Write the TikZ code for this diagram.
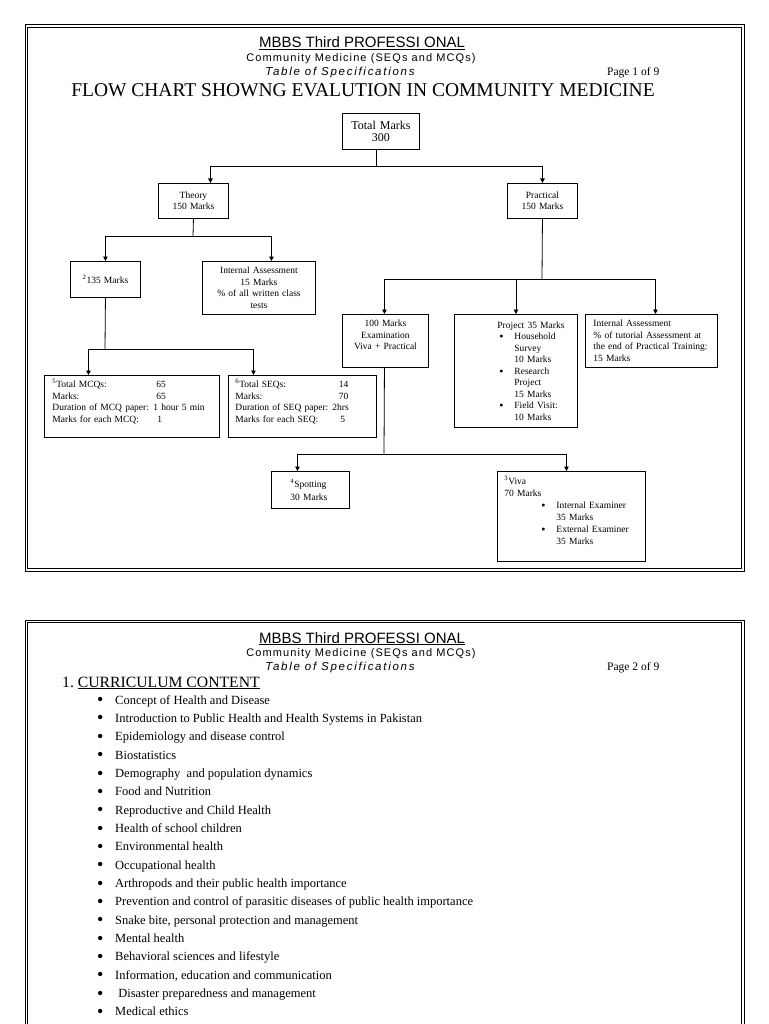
\documentclass[tikz,border=0pt]{standalone}
\usepackage{fontspec}
\setmainfont{Liberation Serif}
\setsansfont{Liberation Sans}
\usetikzlibrary{arrows.meta}
\newcommand\boxfont{\fontsize{9.5pt}{11.5pt}\selectfont}
\newcommand\hdrA{\sffamily\fontsize{15pt}{17pt}\selectfont}
\newcommand\hdrB{\sffamily\fontsize{11pt}{13pt}\selectfont\addfontfeatures{LetterSpace=10}}
\newcommand\hdrC{\sffamily\itshape\fontsize{11.5pt}{13pt}\selectfont\addfontfeatures{LetterSpace=15}}
\newcommand\bl{\makebox[15pt][l]{\raisebox{-0.8pt}{\scalebox{1.25}{\textbullet}}}}
\newcommand\bigbl{\makebox[18pt][l]{\raisebox{-1.6pt}{\scalebox{1.45}{\textbullet}}}}
\begin{document}
\begin{tikzpicture}[x=1pt,y=-1pt,
  box/.style={draw, line width=0.9pt, inner sep=0pt, font=\boxfont, anchor=north west},
  txt/.style={inner sep=0pt},
  ln/.style={line width=0.8pt},
  arr/.style={line width=0.8pt, -{Triangle[length=4.5pt,width=4.5pt]}},
  item/.style={txt, anchor=base west, font=\fontsize{12.5pt}{14pt}\selectfont}]
\useasboundingbox (0,0) rectangle (768,1024);
\clip (0,0) rectangle (768,1024);
\fill[white] (0,0) rectangle (768,1024);

% ---------- page 1 frame ----------
\draw[line width=1pt] (25,25) rectangle (744,571);
\draw[line width=0.6pt] (27.5,27.5) rectangle (741.5,568.5);

% header page 1
\node[txt, anchor=base] (h1a) at (362,48) {\hdrA\underline{MBBS Third PROFESSI ONAL}};
\node[txt, anchor=base] (h1b) at (361,61.5) {\hdrB Community Medicine (SEQs and MCQs)};
\node[txt, anchor=base] (h1c) at (340,75.5) {\hdrC Table of Specifications};
\node[txt, anchor=base west] (h1p) at (607,75.5) {\fontsize{11.5pt}{13pt}\selectfont Page 1 of 9};
\node[txt, anchor=base] (title) at (363,97) {\fontsize{19.5pt}{22pt}\selectfont FLOW CHART SHOWNG EVALUTION IN COMMUNITY MEDICINE};

% boxes
\node[box, minimum width=77pt, minimum height=36pt, text width=72pt, align=center,
      font=\fontsize{12pt}{12pt}\selectfont] (total) at (342,113) {Total Marks\\300};
\node[box, minimum width=70pt, minimum height=35pt, text width=64pt, align=center] (theory) at (158,183) {Theory\\150 Marks};
\node[box, minimum width=70pt, minimum height=35pt, text width=64pt, align=center] (practical) at (507,183) {Practical\\150 Marks};
\node[box, minimum width=70pt, minimum height=36pt, text width=64pt, align=center] (m135) at (70,261) {\textsuperscript{2}135 Marks};
\node[box, minimum width=113pt, minimum height=53pt, text width=105pt, align=center] (ia1) at (202,261)
  {Internal Assessment\\15 Marks\\\% of all written class\\tests};
\node[box, minimum width=175pt, minimum height=62pt, text width=159pt, align=left] (mcq) at (44,375)
  {\makebox[101pt][l]{\textsuperscript{5}Total MCQs:}\hspace*{3pt}65\\
   \makebox[101pt][l]{Marks:}\hspace*{3pt}65\\
   \makebox[101pt][l]{Duration of MCQ paper:}1 hour 5 min\\
   \makebox[101pt][l]{Marks for each MCQ:}\hspace*{4pt}1\\\mbox{}};
\node[box, minimum width=148pt, minimum height=62pt, text width=134pt, align=left] (seq) at (228,375)
  {\makebox[97pt][l]{\textsuperscript{6}Total SEQs:}\makebox[16pt][r]{14}\\
   \makebox[97pt][l]{Marks:}\makebox[16pt][r]{70}\\
   \makebox[97pt][l]{Duration of SEQ paper:}2hrs\\
   \makebox[97pt][l]{Marks for each SEQ:}\hspace*{8pt}5\\\mbox{}};
\node[box, minimum width=86pt, minimum height=53pt, text width=80pt, align=center] (prac100) at (342,314)
  {100 Marks\\Examination\\Viva + Practical\\\mbox{}};
\node[box, minimum width=123pt, minimum height=113pt, text width=111pt, align=left] (project) at (454,314)
  {\hspace*{37pt}Project 35 Marks\\
   \hspace*{39pt}\bl Household\\
   \hspace*{54pt}Survey\\
   \hspace*{54pt}10 Marks\\
   \hspace*{39pt}\bl Research\\
   \hspace*{54pt}Project\\
   \hspace*{54pt}15 Marks\\
   \hspace*{39pt}\bl Field Visit:\\
   \hspace*{54pt}10 Marks};
\node[box, minimum width=132pt, minimum height=53pt, text width=116pt, align=left] (ia2) at (585,314)
  {Internal Assessment\\\% of tutorial Assessment at\\the end of Practical Training:\\15 Marks};
\node[box, minimum width=78pt, minimum height=37pt, text width=40pt, align=left,
      font=\fontsize{9.5pt}{13pt}\selectfont] (spot) at (271,471)
  {\textsuperscript{4}Spotting\\30 Marks};
\node[box, minimum width=148pt, minimum height=90pt, text width=134pt, align=left,
      font=\fontsize{9.5pt}{12pt}\selectfont] (viva) at (497,471)
  {\textsuperscript{3}Viva\\
   70 Marks\\
   \hspace*{37pt}\bl Internal Examiner\\
   \hspace*{52pt}35 Marks\\
   \hspace*{37pt}\bl External Examiner\\
   \hspace*{52pt}35 Marks\\\mbox{}};

% connectors
\coordinate (j1) at (376,166);
\draw[ln] (total.south -| j1) -- (j1);
\draw[arr] (j1) -| ([xshift=17pt]theory.north);
\draw[arr] (j1) -| (practical.north);

\coordinate (j2) at (193,236);
\draw[ln] (theory.south) -- (j2);
\draw[arr] (j2) -| (m135.north);
\draw[arr] (j2) -| ([xshift=12.5pt]ia1.north);

\coordinate (j3) at (105,349);
\draw[ln] (m135.south) -- (j3);
\draw[arr] (j3) -| ([xshift=-43.5pt]mcq.north);
\draw[arr] (j3) -| ([xshift=-49pt]seq.north);

\coordinate (j4) at (542,279);
\draw[ln] (practical.south) -- (j4);
\draw[arr] (j4) -| ([xshift=-1pt]prac100.north);
\draw[arr] (j4) -| (project.north);
\draw[arr] (j4) -| ([xshift=4pt]ia2.north);

\coordinate (j5) at (384,454);
\draw[ln] ([xshift=-1pt]prac100.south) -- (j5);
\draw[arr] (j5) -| ([xshift=-13pt]spot.north);
\draw[arr] (j5) -| ([xshift=-5pt]viva.north);

% ---------- page 2 frame ----------
\draw[line width=1pt] (25,620) rectangle (744,1040);
\draw[line width=0.6pt] (27.5,622.5) rectangle (741.5,1037.5);

\node[txt, anchor=base] (h2a) at (362,643) {\hdrA\underline{MBBS Third PROFESSI ONAL}};
\node[txt, anchor=base] (h2b) at (361,656.5) {\hdrB Community Medicine (SEQs and MCQs)};
\node[txt, anchor=base] (h2c) at (340,670.5) {\hdrC Table of Specifications};
\node[txt, anchor=base west] (h2p) at (607,670.5) {\fontsize{11.5pt}{13pt}\selectfont Page 2 of 9};
\node[txt, anchor=base west] (cc) at (62,687) {\fontsize{15.7pt}{18pt}\selectfont 1.\ \underline{CURRICULUM CONTENT}};

\foreach \t [count=\i from 0] in {
  {Concept of Health and Disease},
  {Introduction to Public Health and Health Systems in Pakistan},
  {Epidemiology and disease control},
  {Biostatistics},
  {Demography\ \ and population dynamics},
  {Food and Nutrition},
  {Reproductive and Child Health},
  {Health of school children},
  {Environmental health},
  {Occupational health},
  {Arthropods and their public health importance},
  {Prevention and control of parasitic diseases of public health importance},
  {Snake bite, personal protection and management},
  {Mental health},
  {Behavioral sciences and lifestyle},
  {Information, education and communication},
  {\ Disaster preparedness and management},
  {Medical ethics}}
  \node[item] (it\i) at (97,704+\i*18.35) {\bigbl\t};

\end{tikzpicture}
\end{document}
